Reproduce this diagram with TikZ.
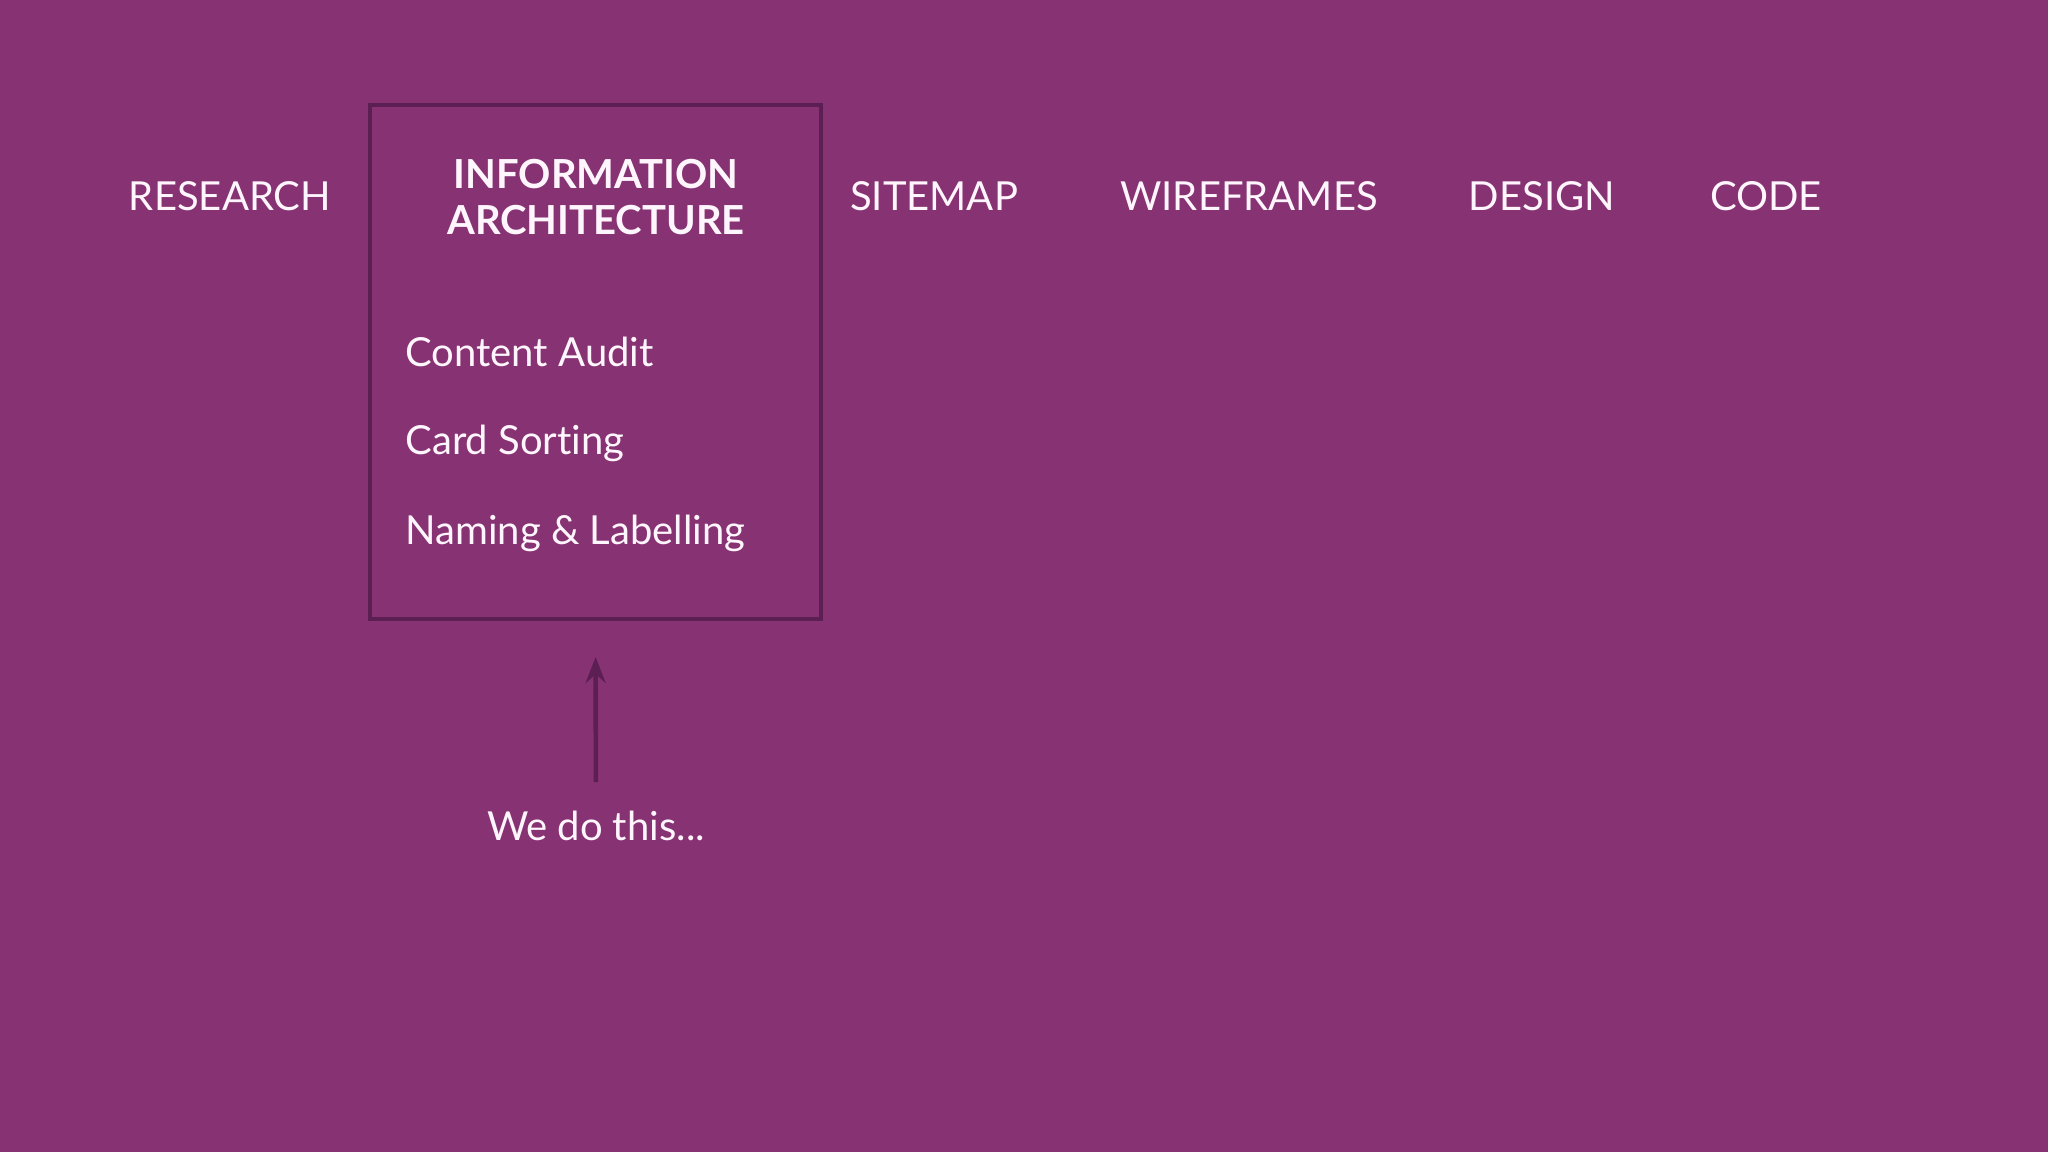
\documentclass[tikz,border=0pt]{standalone}
\usepackage{fontspec}
\setmainfont{Lato}[Ligatures={NoCommon}]
\usetikzlibrary{arrows.meta}
\definecolor{plum}{HTML}{873272}
\definecolor{darkplum}{HTML}{5B1F54}
\definecolor{paleink}{HTML}{FFF6FD}
\tikzset{
  stage/.style={text=paleink, inner sep=0pt, anchor=base, font=\fontsize{20}{23}\selectfont},
  task/.style={text=paleink, inner sep=0pt, anchor=base west, font=\fontsize{20}{23}\selectfont},
}
\begin{document}
\begin{tikzpicture}[x=0.5pt,y=-0.5pt]
    % Background
    \fill[plum] (0,0) rectangle (2048,1152);
    \useasboundingbox (0,0) rectangle (2048,1152);

    % The stages along the top
    \node[stage] (research) at (230,210) {RESEARCH};
    \node[stage] (sitemap) at (934,210) {SITEMAP};
    \node[stage] (wireframes) at (1249,210) {WIREFRAMES};
    \node[stage] (design) at (1542,210) {DESIGN};
    \node[stage] (code) at (1766,210) {CODE};

    % Highlighted stage: frame and its heading
    \node[draw=darkplum, line width=2pt, minimum width=225.5pt, minimum height=257pt, inner sep=0pt] (iabox) at (595.5,362) {};
    \node[stage, align=center, font=\bfseries\fontsize{20}{23}\selectfont] (iahead) at (596,234) {INFORMATION\\ARCHITECTURE};

    % Tasks inside the frame
    \node[task] (audit) at (405,366) {Content Audit};
    \node[task] (sorting) at (405,454) {Card Sorting};
    \node[task] (naming) at (405,544) {Naming \& Labelling};

    % Pointer from the caption up to the frame
    \node[stage] (wedo) at (596,840) {We do this...};
    \draw[-{Stealth[length=13pt,width=10pt,inset=4.5pt]}, darkplum, line width=2.3pt, shorten <=14pt, shorten >=18pt] (wedo.north) -- (iabox.south);
\end{tikzpicture}
\end{document}
